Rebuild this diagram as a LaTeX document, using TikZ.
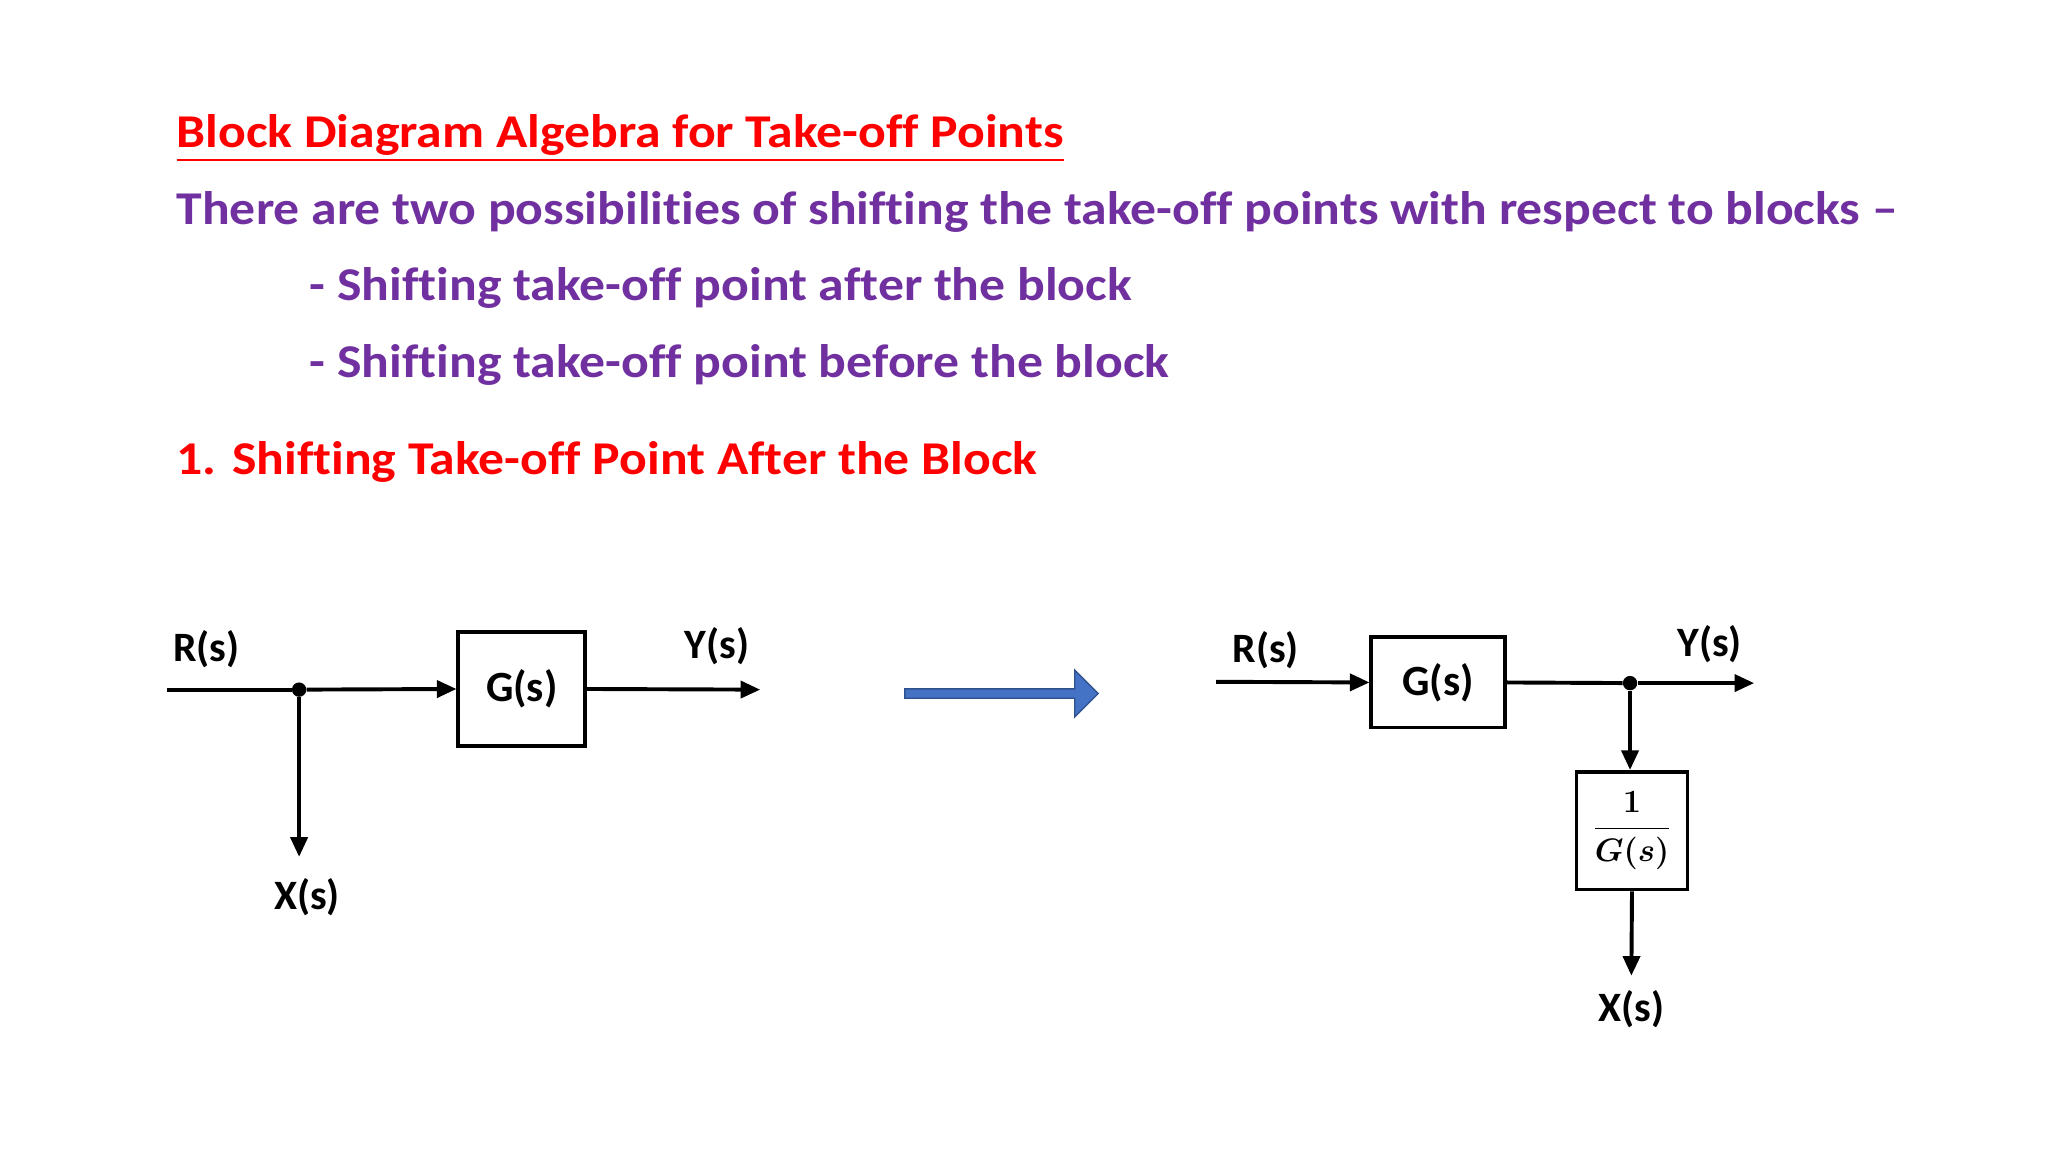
\documentclass[tikz,border=0pt]{standalone}
\usepackage{amsmath}
\usepackage{fontspec}
\setmainfont{Carlito}[RawFeature=-liga]
\usetikzlibrary{arrows.meta,shapes.arrows}
\definecolor{tred}{RGB}{255,0,0}
\definecolor{tpurp}{RGB}{112,48,160}
\definecolor{barrow}{RGB}{68,114,196}
\definecolor{barrowd}{RGB}{47,82,143}
\begin{document}
\begin{tikzpicture}[x=1pt,y=-1pt,
  head/.style={anchor=base west,inner sep=0,xscale=1.1,font=\fontsize{36}{42}\selectfont\bfseries},
  blk/.style={draw,line width=3pt,inner sep=0,minimum width=97pt,minimum height=87pt,font=\fontsize{33}{38}\selectfont\bfseries},
  lbl/.style={inner sep=0,font=\fontsize{32}{38}\selectfont\bfseries},
  sig/.style={line width=3pt,-{Triangle[length=15pt,width=13pt]}},
  ln/.style={line width=3pt},
  dot/.style={circle,fill,inner sep=0,minimum size=11pt}]
\useasboundingbox (0,0) rectangle (1568,882);
\node[head,text=tred] (t1) at (135,113) {\underline{Block Diagram Algebra for Take-off Points}};
\node[head,text=tpurp] (t2) at (135,172) {There are two possibilities of shifting the take-off points with respect to blocks –};
\node[head,text=tpurp] (t3) at (237,230) {- Shifting take-off point after the block};
\node[head,text=tpurp] (t4) at (237,289) {- Shifting take-off point before the block};
\node[head,text=tred] (t5) at (135,363) {1. Shifting Take-off Point After the Block};
% left diagram
\coordinate (l0) at (128,528);
\node[dot] (lj) at (229,528) {};
\node[blk] (lg) at (399.5,527.5) {G(s)};
\coordinate (lout) at (582,528);
\coordinate (lx) at (229,656);
\draw[ln] (l0) -- (lj);
\draw[sig] (lj) -- (lg.west);
\draw[sig] (lg.east) -- (lout);
\draw[sig] (lj) -- (lx);
\node[lbl] (lr) at (158,497) {R(s)};
\node[lbl] (ly) at (549,495) {Y(s)};
\node[lbl] (lxl) at (235,687) {X(s)};
% big arrow
\node[single arrow,draw=barrowd,fill=barrow,line width=1pt,minimum height=148pt,minimum width=36pt,single arrow head extend=2pt,single arrow tip angle=90,inner sep=0,shape border uses incircle=false] (ba) at (765,531) {};
% right diagram
\coordinate (r0) at (931,522);
\node[blk,minimum width=102pt,minimum height=69pt] (rg) at (1101,522.5) {G(s)};
\node[dot] (rj) at (1248,523) {};
\coordinate (rout) at (1343,523);
\node[blk,minimum width=85pt,minimum height=90pt,font=\fontsize{25}{30}\selectfont] (rh) at (1249.5,636) {$\boldsymbol{\dfrac{1}{G(s)}}$};
\coordinate (rx) at (1249,747);
\draw[sig] (r0) -- (rg.west);
\draw[ln] (rg.east) -- (rj);
\draw[sig] (rj) -- (rout);
\draw[sig] (rj) -- (rj |- rh.north);
\draw[sig] (rh.south) -- (rx);
\node[lbl] (rr) at (969,498) {R(s)};
\node[lbl] (ry) at (1309,493) {Y(s)};
\node[lbl] (rxl) at (1249,773) {X(s)};
\end{tikzpicture}
\end{document}
